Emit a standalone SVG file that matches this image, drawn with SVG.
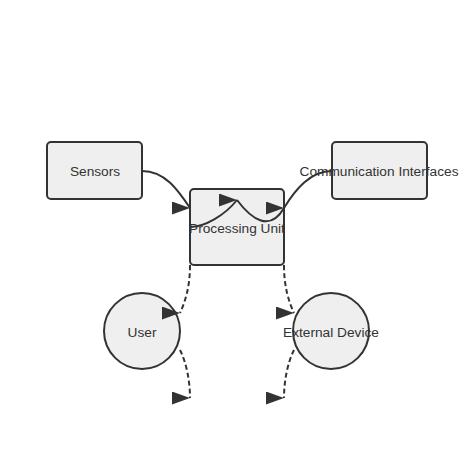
<svg xmlns="http://www.w3.org/2000/svg" width="474" height="474" viewBox="0 0 474 474">
<style>
.n{fill:#efefef;stroke:#333;stroke-width:2}
.t{font-family:"Liberation Sans",Arial,sans-serif;font-size:13.7px;fill:#333;text-anchor:middle;dominant-baseline:central}
.e{fill:none;stroke:#333;stroke-width:2}
.d{fill:none;stroke:#333;stroke-width:2;stroke-dasharray:5,3}
</style>
<defs>
<marker id="ah" markerUnits="userSpaceOnUse" markerWidth="19" markerHeight="13" refX="18" refY="6.5" orient="0">
<path d="M0,0 L18,6.5 L0,13 z" fill="#333"/>
</marker>
</defs>
<rect width="474" height="474" fill="#fff"/>
<g id="sensors"><rect class="n" x="47" y="142" width="95" height="57" rx="4"/><text class="t" x="95" y="171">Sensors</text></g>
<g id="comm"><rect class="n" x="332" y="142" width="95" height="57" rx="4"/></g>
<g id="processing"><rect class="n" x="190" y="189" width="94" height="76" rx="4"/></g>
<g id="user"><circle class="n" cx="142" cy="331" r="38"/><text class="t" x="142" y="332">User</text></g>
<g id="external"><circle class="n" cx="331" cy="331" r="38"/></g>
<g id="connectors">
<path class="e" d="M142,171 C165,171 178,190 190,208" marker-end="url(#ah)"/>
<path class="e" d="M190,227 C205,227 225,215 237,200" marker-end="url(#ah)"/>
<path class="e" d="M237,200 C252,220 270,232 284,208" marker-end="url(#ah)"/>
<path class="e" d="M284,208 C295,190 310,171 332,171"/>
<path class="d" d="M190,265 C190,285 186,300 180,313" marker-end="url(#ah)"/>
<path class="d" d="M180,350 C186,362 190,380 190,398" marker-end="url(#ah)"/>
<path class="d" d="M284,265 C284,285 288,300 294,313" marker-end="url(#ah)"/>
<path class="d" d="M294,350 C288,362 284,380 284,398" marker-end="url(#ah)"/>
</g>
<text class="t" x="379" y="171">Communication Interfaces</text>
<text class="t" x="237" y="228">Processing Unit</text>
<text class="t" x="331" y="332">External Device</text>
</svg>
